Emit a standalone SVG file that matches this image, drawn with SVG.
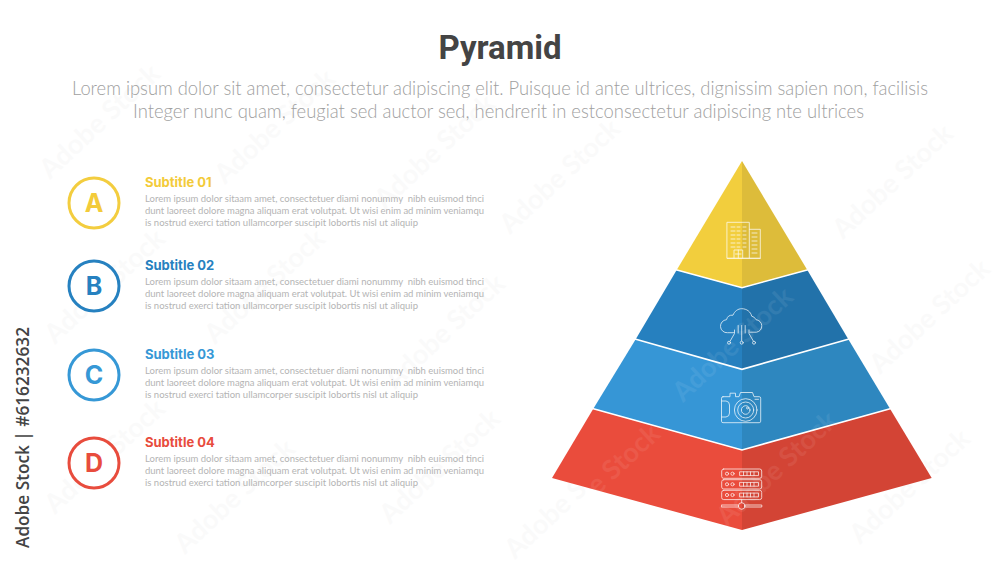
<svg xmlns="http://www.w3.org/2000/svg" width="1000" height="563" viewBox="0 0 1000 563">
<style>
text{font-family:"Lato","Liberation Sans",sans-serif;white-space:pre}
.title{font-family:"Roboto","Liberation Sans",sans-serif;font-weight:700;font-size:33px;fill:#444;text-anchor:middle}
.lead{font-weight:300;font-size:19px;fill:#a0a0a0;text-anchor:middle}
.sub{font-family:"Inter","Liberation Sans",sans-serif;font-weight:700;font-size:13px}
.body{font-size:10px;fill:#b4b4b4;font-weight:400}
.let{font-family:"Inter","Liberation Sans",sans-serif;font-weight:700;font-size:25px;text-anchor:middle}
.ring{fill:#fff;stroke-width:3}
.ico{fill:none;stroke:#fff;stroke-width:.85;opacity:.85;stroke-linecap:round;stroke-linejoin:round}
.sep{fill:none;stroke:#fff;stroke-width:1.6}
.wm{font-family:"Liberation Sans",sans-serif;font-weight:700;font-size:27px}
.wl{fill:#000;opacity:.014}
.wd{fill:#fff;opacity:.07}
</style>
<rect width="1000" height="563" fill="#fff"/>
<g id="watermarks-back" class="wm">
<text class="wl" transform="translate(50,180) rotate(-43)">Adobe Stock</text>
<text class="wl" transform="translate(225,185) rotate(-43)">Adobe Stock</text>
<text class="wl" transform="translate(385,210) rotate(-43)">Adobe Stock</text>
<text class="wl" transform="translate(510,235) rotate(-43)">Adobe Stock</text>
<text class="wl" transform="translate(843,240) rotate(-43)">Adobe Stock</text>
<text class="wl" transform="translate(55,345) rotate(-43)">Adobe Stock</text>
<text class="wl" transform="translate(215,345) rotate(-43)">Adobe Stock</text>
<text class="wl" transform="translate(395,390) rotate(-43)">Adobe Stock</text>
<text class="wl" transform="translate(880,375) rotate(-43)">Adobe Stock</text>
<text class="wl" transform="translate(55,515) rotate(-43)">Adobe Stock</text>
<text class="wl" transform="translate(185,555) rotate(-43)">Adobe Stock</text>
<text class="wl" transform="translate(390,525) rotate(-43)">Adobe Stock</text>
<text class="wl" transform="translate(515,560) rotate(-43)">Adobe Stock</text>
<text class="wl" transform="translate(860,545) rotate(-43)">Adobe Stock</text>
</g>
<g id="header">
<text class="title" x="500" y="59">Pyramid</text>
<text class="lead" x="500" y="95" textLength="856" lengthAdjust="spacingAndGlyphs">Lorem ipsum dolor sit amet, consectetur adipiscing elit. Puisque id ante ultrices, dignissim sapien non, facilisis</text>
<text class="lead" x="498.500" y="118" textLength="731" lengthAdjust="spacingAndGlyphs">Integer nunc quam, feugiat sed auctor sed, hendrerit in estconsectetur adipiscing nte ultrices</text>
</g>
<g id="item-a">
<circle class="ring" cx="94" cy="203" r="25" stroke="#f3cd3f"/>
<text class="let" x="94" y="212" fill="#f3cb3a">A</text>
<text class="sub" x="145" y="187" fill="#f3cb3a">Subtitle 01</text>
<text class="body" x="145" y="202" textLength="339" lengthAdjust="spacingAndGlyphs">Lorem ipsum dolor sitaam amet, consectetuer diami nonummy  nibh euismod tinci</text>
<text class="body" x="145" y="214" textLength="339" lengthAdjust="spacingAndGlyphs">dunt laoreet dolore magna aliquam erat volutpat. Ut wisi enim ad minim veniamqu</text>
<text class="body" x="145" y="226" textLength="273" lengthAdjust="spacingAndGlyphs">is nostrud exerci tation ullamcorper suscipit lobortis nisl ut aliquip</text>
</g>
<g id="item-b">
<circle class="ring" cx="94" cy="286" r="25" stroke="#2681c0"/>
<text class="let" x="94" y="295" fill="#2681c0">B</text>
<text class="sub" x="145" y="270" fill="#2681c0">Subtitle 02</text>
<text class="body" x="145" y="285" textLength="339" lengthAdjust="spacingAndGlyphs">Lorem ipsum dolor sitaam amet, consectetuer diami nonummy  nibh euismod tinci</text>
<text class="body" x="145" y="297" textLength="339" lengthAdjust="spacingAndGlyphs">dunt laoreet dolore magna aliquam erat volutpat. Ut wisi enim ad minim veniamqu</text>
<text class="body" x="145" y="309" textLength="273" lengthAdjust="spacingAndGlyphs">is nostrud exerci tation ullamcorper suscipit lobortis nisl ut aliquip</text>
</g>
<g id="item-c">
<circle class="ring" cx="94" cy="375" r="25" stroke="#3698d6"/>
<text class="let" x="94" y="384" fill="#3698d6">C</text>
<text class="sub" x="145" y="359" fill="#3698d6">Subtitle 03</text>
<text class="body" x="145" y="374" textLength="339" lengthAdjust="spacingAndGlyphs">Lorem ipsum dolor sitaam amet, consectetuer diami nonummy  nibh euismod tinci</text>
<text class="body" x="145" y="386" textLength="339" lengthAdjust="spacingAndGlyphs">dunt laoreet dolore magna aliquam erat volutpat. Ut wisi enim ad minim veniamqu</text>
<text class="body" x="145" y="398" textLength="273" lengthAdjust="spacingAndGlyphs">is nostrud exerci tation ullamcorper suscipit lobortis nisl ut aliquip</text>
</g>
<g id="item-d">
<circle class="ring" cx="94" cy="463" r="25" stroke="#e84c3d"/>
<text class="let" x="94" y="472" fill="#e84c3d">D</text>
<text class="sub" x="145" y="447" fill="#e84c3d">Subtitle 04</text>
<text class="body" x="145" y="462" textLength="339" lengthAdjust="spacingAndGlyphs">Lorem ipsum dolor sitaam amet, consectetuer diami nonummy  nibh euismod tinci</text>
<text class="body" x="145" y="474" textLength="339" lengthAdjust="spacingAndGlyphs">dunt laoreet dolore magna aliquam erat volutpat. Ut wisi enim ad minim veniamqu</text>
<text class="body" x="145" y="486" textLength="273" lengthAdjust="spacingAndGlyphs">is nostrud exerci tation ullamcorper suscipit lobortis nisl ut aliquip</text>
</g>
<g id="tier-red">
<polygon points="593.300,408.700 742,450 742,530 552,478" fill="#ea4c3c"/>
<polygon points="890,408.700 742,450 742,530 931.700,478" fill="#d34435"/>
<g class="ico">
<rect x="721.700" y="469" width="40" height="9.300" rx="2"/>
<rect x="721.700" y="479.700" width="40" height="9.300" rx="2"/>
<rect x="721.700" y="490.300" width="40" height="9.300" rx="2"/>
<circle cx="727" cy="473.700" r="1.600"/><circle cx="732.500" cy="473.700" r="1.600"/>
<circle cx="727" cy="484.300" r="1.600"/><circle cx="732.500" cy="484.300" r="1.600"/>
<circle cx="727" cy="495" r="1.600"/><circle cx="732.500" cy="495" r="1.600"/>
<path d="M740 471.800h18.500v3.800h-18.500zM743.500 471.800v3.800M747 471.800v3.800M750.500 471.800v3.800M754 471.800v3.800M740 482.400h18.500v3.800h-18.500zM743.500 482.400v3.800M747 482.400v3.800M750.500 482.400v3.800M754 482.400v3.800M740 493.100h18.500v3.800h-18.500zM743.500 493.100v3.800M747 493.100v3.800M750.500 493.100v3.800M754 493.100v3.800"/>
<path d="M741.700 499.600v3.100M721.700 505h16.800v2h-16.800zM745 505h16.800v2h-16.800z"/>
<circle cx="741.700" cy="506" r="3.300"/>
</g>
</g>
<g id="tier-blue">
<polygon points="635.700,339.300 742,369.300 742,450 593.300,408.700" fill="#3696d6"/>
<polygon points="848.300,339.300 742,369.300 742,450 890,408.700" fill="#2e87bf"/>
<g class="ico">
<path d="M723 396.700h7v-3.500h5.500v3.500h3.500l1.500-4.200h12l1.500 4.200h5.200a1.500 1.500 0 0 1 1.500 1.500v23a1.500 1.500 0 0 1-1.500 1.500h-36.200a1.500 1.500 0 0 1-1.500-1.500v-23a1.500 1.500 0 0 1 1.500-1.500z"/>
<path d="M721.500 401h4.500a4 4 0 0 1 3.500 4v8a4 4 0 0 1-3.500 4h-4.500"/>
<circle cx="745.700" cy="410" r="11.300"/>
<circle cx="745.700" cy="410" r="8"/>
<circle cx="745.700" cy="410" r="4.300"/>
<circle cx="747.500" cy="408" r="1"/>
<path d="M755 399.300h3.500"/>
</g>
</g>
<g id="tier-dark-blue">
<polygon points="676.700,270 742,287.700 742,369.300 635.700,339.300" fill="#2680bf"/>
<polygon points="807.300,270 742,287.700 742,369.300 848.300,339.300" fill="#2272aa"/>
<g class="ico">
<path d="M734 332.700h-6.500a6.500 6.500 0 0 1-1-13 6 6 0 0 1 6.500-4.500c1.500-4 5-6.500 8.700-6.500c5 0 9 3 10 7.500a6 6 0 0 1 4.300 3.500a6.300 6.300 0 0 1 .5 12.500h-6.500"/>
<path d="M741.700 325.500v15.200M738.200 325.500v7.500M745.200 325.500v7.500"/>
<path d="M734.500 330v3.500l-4.300 7.500M749 330v3.500l4.300 7.500"/>
<circle cx="729" cy="342.700" r="1.500"/><circle cx="741.700" cy="342.700" r="1.500"/><circle cx="754" cy="342.700" r="1.500"/>
</g>
</g>
<g id="tier-yellow">
<polygon points="742,161 742,287.700 676.700,270" fill="#f2ce3d"/>
<polygon points="742,161 742,287.700 807.300,270" fill="#ddbc3a"/>
<g class="ico">
<rect x="727.300" y="222.300" width="22" height="36"/>
<path d="M749.300 229.300h11v29h-11M727.300 258.300h33"/>
<path d="M734 258.300v-8.300h8.700v8.300M738.300 250v8.300M735.500 254h5.500"/>
<path d="M731 227h4M737 227h3M743 227h3M731 231h4M737 231h3M743 231h3M731 235h4M737 235h3M743 235h3M731 239h4M737 239h3M743 239h3M731 243h4M737 243h3M743 243h3M731 247h4M737 247h3M743 247h3M752 233h5M752 237h5M752 241h5M752 245h5M752 249h5M752 253h5"/>
</g>
</g>
<g id="tier-separators">
<path class="sep" d="M676 269.800L742 287.700L808 269.800"/>
<path class="sep" d="M635 339.100L742 369.300L849 339.100"/>
<path class="sep" d="M592.500 408.500L742 450L891 408.500"/>
</g>
<g id="watermarks-front" class="wm">
<text class="wd" transform="translate(557,357) rotate(-43)">Adobe Stock</text>
<text class="wd" transform="translate(683,403) rotate(-43)">Adobe Stock</text>
<text class="wd" transform="translate(727,527) rotate(-43)">Adobe Stock</text>
<text class="wd" transform="translate(550,540) rotate(-43)">Adobe Stock</text>
</g>
<text id="credit" transform="translate(29,548) rotate(-90)" font-size="17.500" textLength="221" lengthAdjust="spacingAndGlyphs" style="font-family:'Open Sans','Liberation Sans',sans-serif;font-weight:600" fill="#444">Adobe Stock | #616232632</text>
</svg>
